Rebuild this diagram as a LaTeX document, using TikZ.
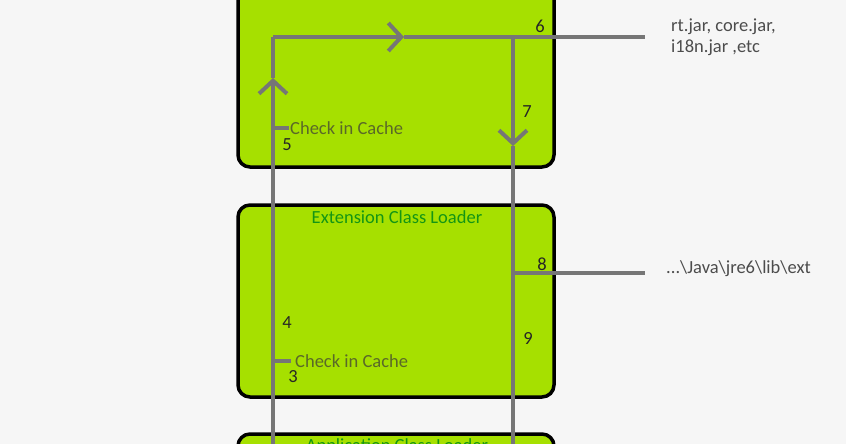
\documentclass[tikz,border=0pt]{standalone}
\usepackage{fontspec}
\setmainfont{Carlito}
\usetikzlibrary{arrows.meta,positioning}
\definecolor{loadergreen}{RGB}{166,224,0}
\definecolor{pathgray}{RGB}{118,118,118}
\definecolor{cachetext}{RGB}{90,105,40}
\definecolor{titlegreen}{RGB}{20,150,20}
\definecolor{bggray}{RGB}{246,246,246}
\begin{document}
\begin{tikzpicture}[x=1pt,y=-1pt,font=\fontsize{18.5}{22}\selectfont]
  \tikzstyle{loader}=[draw=black,line width=3.5pt,fill=loadergreen,rounded corners=12pt]
  \tikzstyle{flow}=[draw=pathgray,line width=4pt]
  \tikzstyle{barb}=[-{Straight Barb[length=13pt,width=28pt]}]
  \tikzstyle{num}=[inner sep=0pt,text=black!85]
  \tikzstyle{jar}=[inner sep=0pt,anchor=west,text=black!70]
  \fill[bggray] (0,0) rectangle (846,444);
  \clip (0,0) rectangle (846,444);
  \useasboundingbox (0,0) rectangle (846,444);
  % loaders
  \draw[loader] (238,-30) rectangle (554,167);
  \draw[loader] (238,205) rectangle (554,397);
  \draw[loader] (238,434) rectangle (554,520);
  \node[text=titlegreen,inner sep=0pt] (ext) at (397,217) {Extension Class Loader};
  \node[text=titlegreen,inner sep=0pt] (app) at (397,447) {Application Class Loader};
  % path points
  \coordinate (lb) at (273,460);
  \coordinate (lup) at (273,78);
  \coordinate (lt) at (273,37);
  \coordinate (tmid) at (404,37);
  \coordinate (rt) at (513,37);
  \coordinate (bootout) at (645,37);
  \coordinate (rdown) at (513,146);
  \coordinate (rb) at (513,460);
  \coordinate (rext) at (513,273);
  \coordinate (extout) at (645,273);
  \coordinate (c5) at (289,128);
  \coordinate (c3) at (291,361);
  % flow
  \draw[flow,barb] (lb) -- (lup);
  \draw[flow] (lup) -- (lt);
  \draw[flow,barb] (lt) -- (tmid);
  \draw[flow] (tmid) -- (bootout);
  \draw[flow,barb] (rt) -- (rdown);
  \draw[flow] (rdown) -- (rb);
  \draw[flow] (rext) -- (extout);
  \draw[flow] (273,128) -- (c5);
  \draw[flow] (273,361) -- (c3);
  % labels
  \node[inner sep=0pt,anchor=west,text=cachetext] (chk5) [right=1pt of c5] {Check in Cache};
  \node[inner sep=0pt,anchor=west,text=cachetext] (chk3) [right=4pt of c3] {Check in Cache};
  \node[num] (n6) at (540,26) {6};
  \node[num] (n7) at (527,112) {7};
  \node[num] (n5) at (287,145) {5};
  \node[num] (n8) at (542,264) {8};
  \node[num] (n9) at (528,338) {9};
  \node[num] (n4) at (287,323) {4};
  \node[num] (n3) at (293,377) {3};
  \node[jar] (rtjar) at (671,27) {rt.jar, core.jar,};
  \node[jar] (i18n) at (671,48) {i18n.jar ,etc};
  \node[jar] (extdir) at (666,269) {...\textbackslash Java\textbackslash jre6\textbackslash lib\textbackslash ext};
\end{tikzpicture}
\end{document}
